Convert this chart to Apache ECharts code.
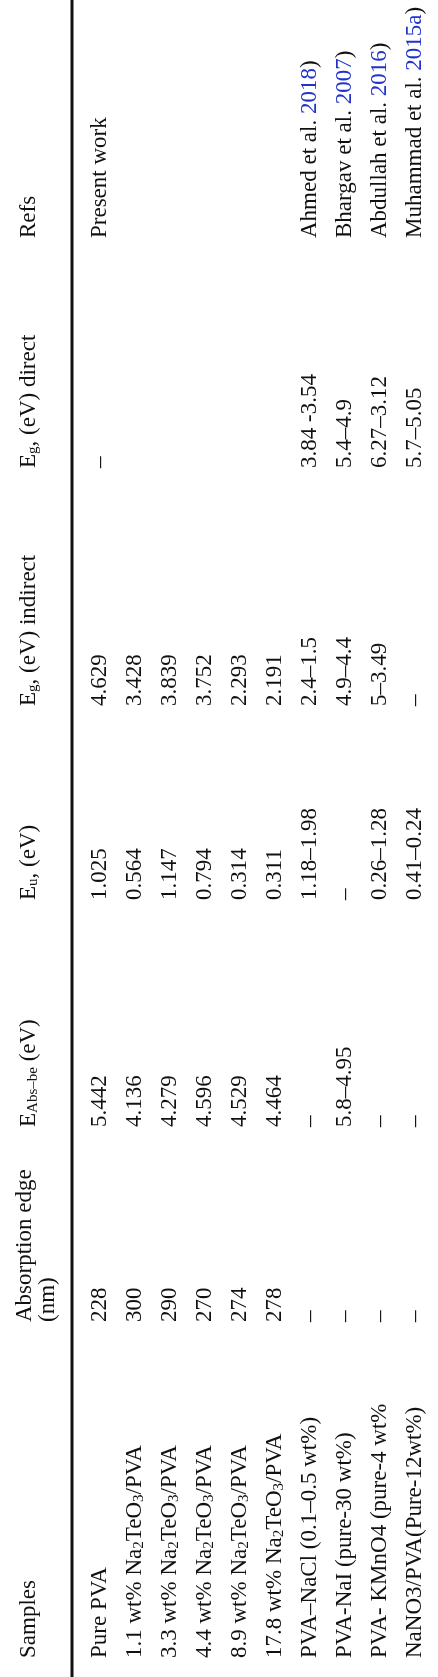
<!DOCTYPE html>
<html>
<head>
<meta charset="utf-8">
<script src="https://cdn.jsdelivr.net/npm/echarts@6/dist/echarts.min.js"></script>
<style>html,body{margin:0;padding:0;background:#fff}#main{width:438px;height:1677px}</style>
</head>
<body>
<div id="main"></div>
<script>
// table rows (original orientation); {s|..} marks a subscript
var samples = ['Pure PVA', '1.1 wt% Na{s|2}TeO{s|3}/PVA', '3.3 wt% Na{s|2}TeO{s|3}/PVA', '4.4 wt% Na{s|2}TeO{s|3}/PVA',
  '8.9 wt% Na{s|2}TeO{s|3}/PVA', '17.8 wt% Na{s|2}TeO{s|3}/PVA', 'PVA–NaCl (0.1–0.5 wt%)', 'PVA-NaI (pure-30 wt%)',
  'PVA- KMnO4 (pure-4 wt%', 'NaNO3/PVA(Pure-12wt%)'];
var absEdge = ['228', '300', '290', '270', '274', '278', '–', '–', '–', '–'];
var eAbs = ['5.442', '4.136', '4.279', '4.596', '4.529', '4.464', '–', '5.8–4.95', '–', '–'];
var eU = ['1.025', '0.564', '1.147', '0.794', '0.314', '0.311', '1.18–1.98', '–', '0.26–1.28', '0.41–0.24'];
var egIndirect = ['4.629', '3.428', '3.839', '3.752', '2.293', '2.191', '2.4–1.5', '4.9–4.4', '5–3.49', '–'];
var egDirect = ['–', '', '', '', '', '', '3.84 -3.54', '5.4–4.9', '6.27–3.12', '5.7–5.05'];
var refs = ['Present work', '', '', '', '', '', 'Ahmed et al. {b|2018})', 'Bhargav et al. {b|2007})',
  'Abdullah et al. {b|2016})', 'Muhammad et al. {b|2015a})'];
var headers = ['Samples', 'Absorption edge\n(nm)', 'E{s|Abs–be} (eV)', 'E{s|u}, (eV)', 'E{s|g}, (eV) indirect', 'E{s|g}, (eV) direct', 'Refs'];

var columns = [samples, absEdge, eAbs, eU, egIndirect, egDirect, refs];
var colStart = [1658, 1322, 1127, 900, 706, 468, 238];

var rich = {
  s: { fontSize: 15, verticalAlign: 'bottom', fontFamily: 'Liberation Serif', fill: '#111', padding: [11, 0, 0, 0] },
  b: { fontSize: 23, fontFamily: 'Liberation Serif', fill: '#2233cc' }
};

function cell(txt, x, y) {
  return {
    type: 'text', x: x, y: y, rotation: Math.PI / 2,
    style: {
      text: txt, rich: rich, fill: '#111', fontSize: 23, fontFamily: 'Liberation Serif',
      align: 'left', verticalAlign: 'middle', lineHeight: 23
    }
  };
}

var elements = [];
headers.forEach(function (h, c) {
  elements.push(cell(h, c === 1 ? 36 : 29, colStart[c]));
});
columns.forEach(function (col, c) {
  col.forEach(function (v, r) {
    if (v) elements.push(cell(v, 100 + r * 35, colStart[c]));
  });
});
elements.push({ type: 'line', shape: { x1: 72, y1: 0, x2: 72, y2: 1677 }, style: { stroke: '#111', lineWidth: 3 } });

var chart = echarts.init(document.getElementById('main'));
chart.setOption({ animation: false, graphic: { elements: elements } });
</script>
</body>
</html>
